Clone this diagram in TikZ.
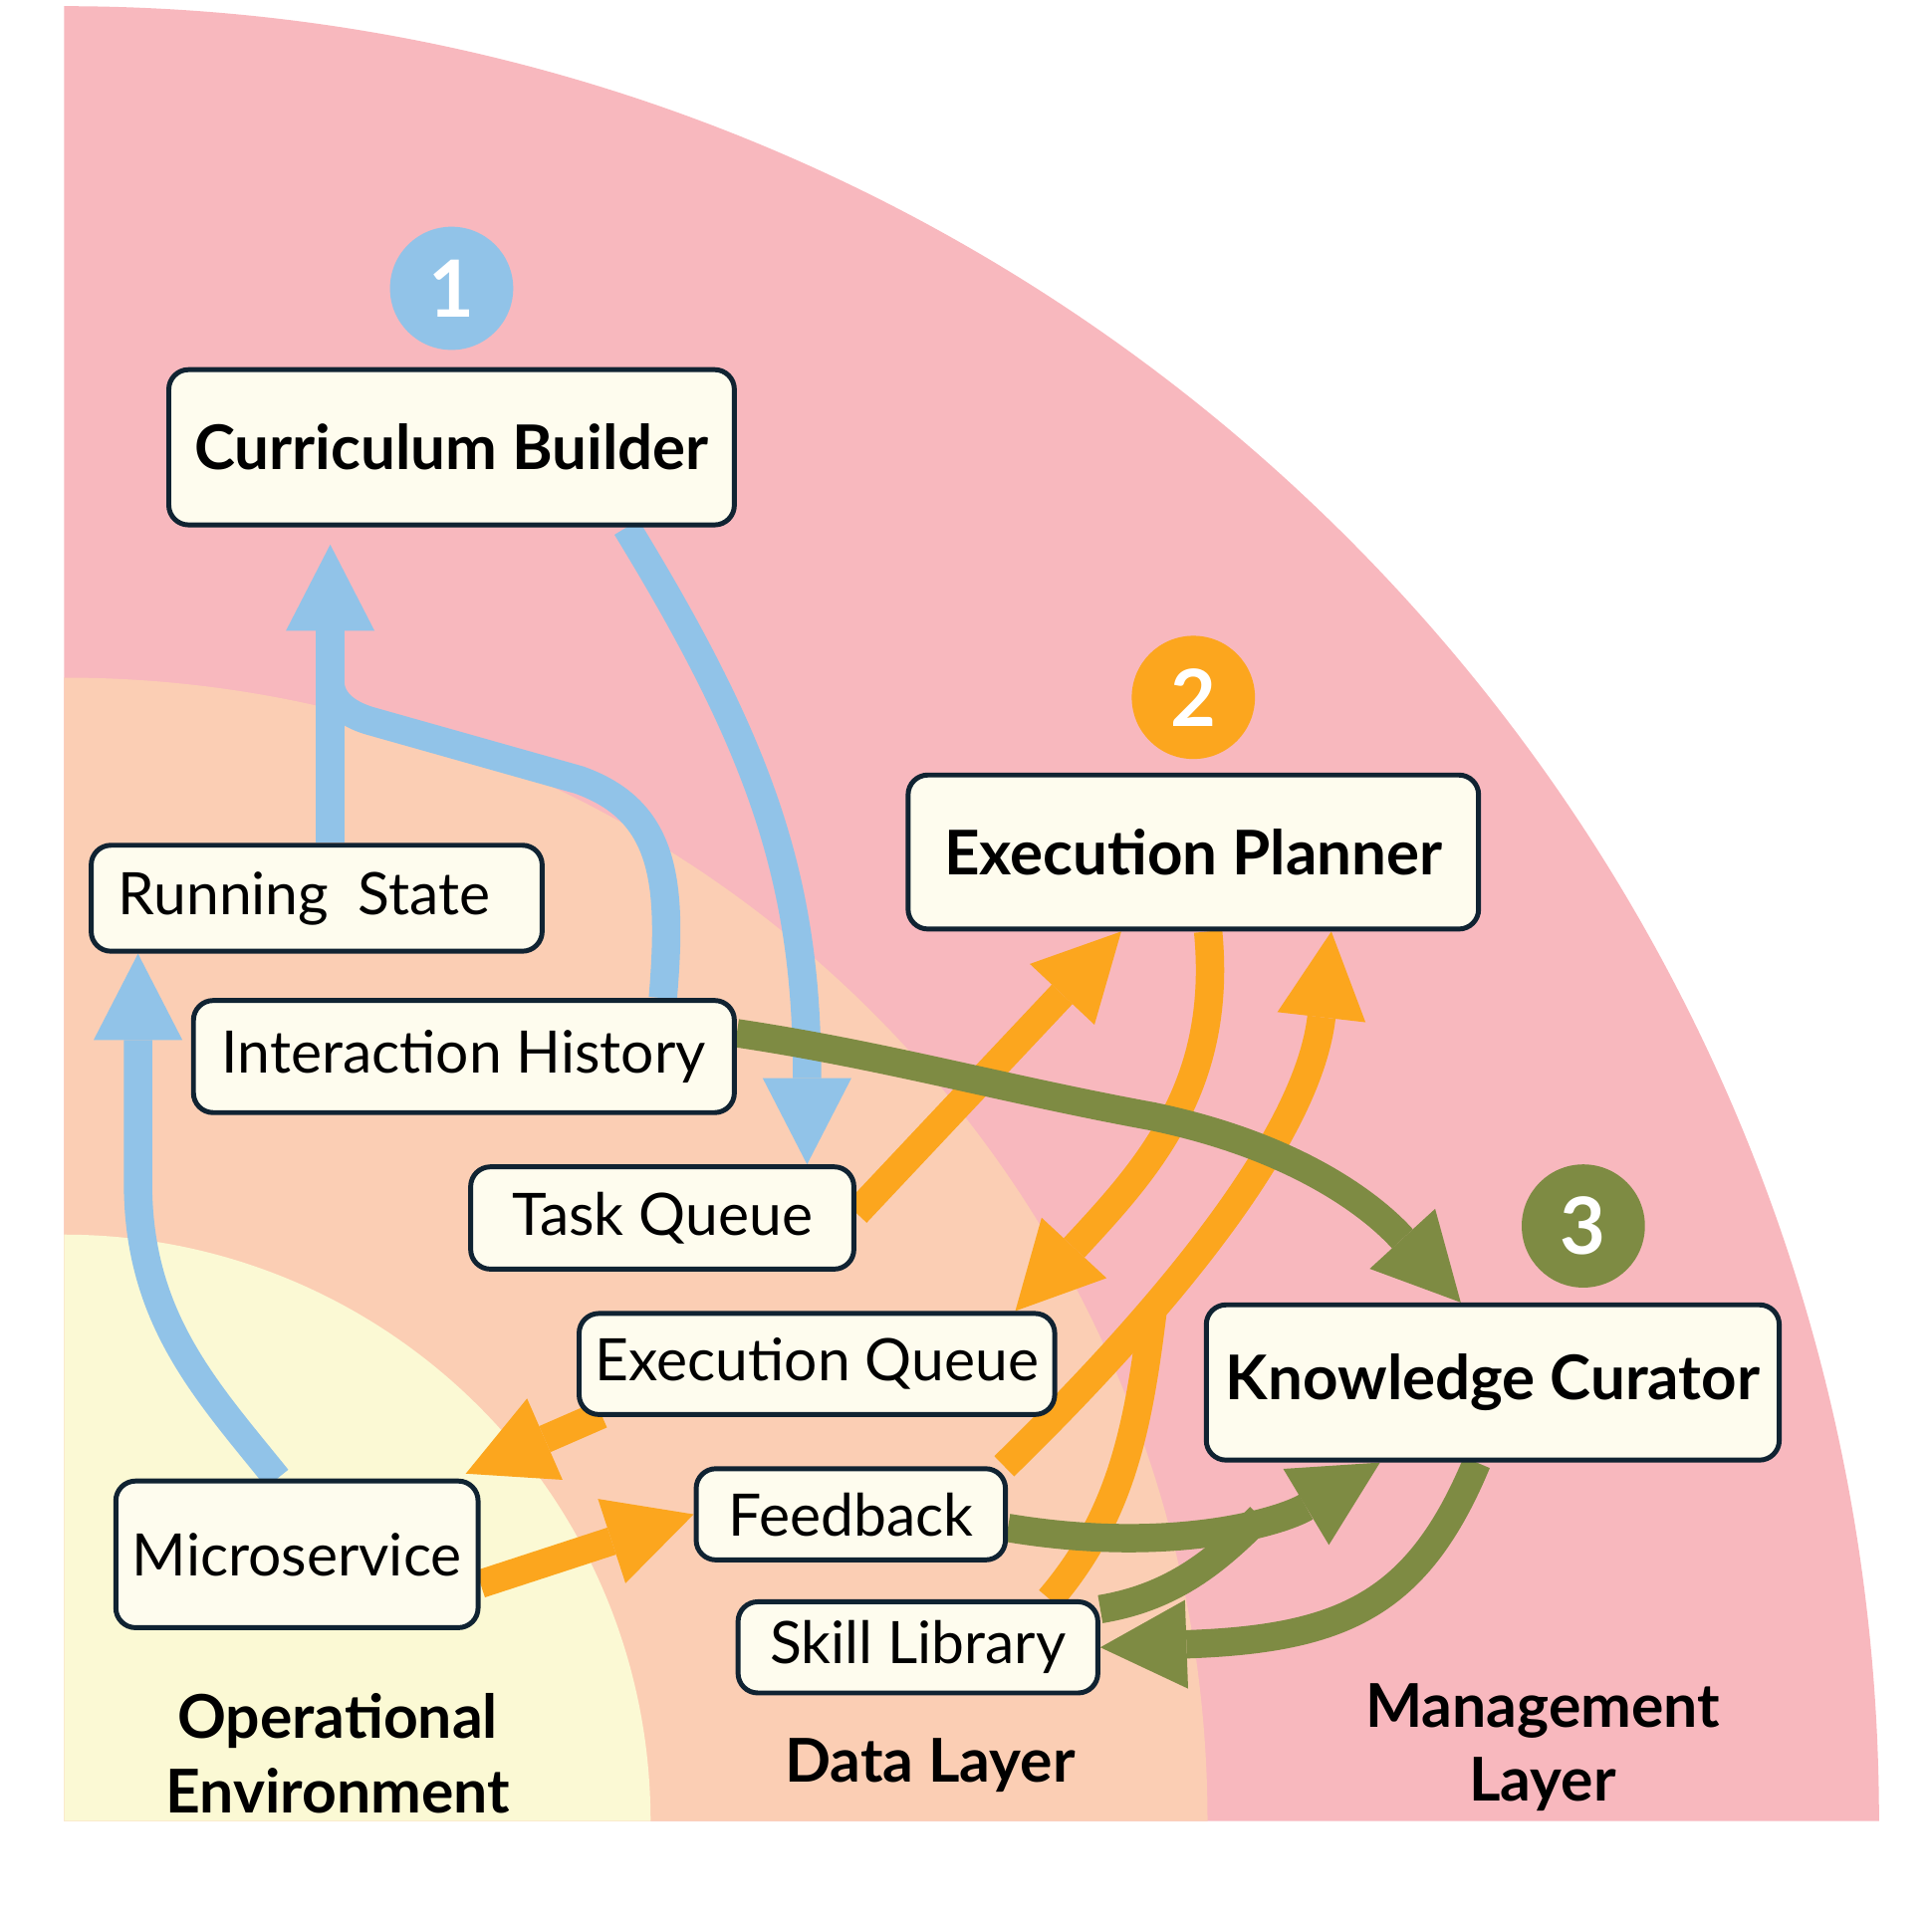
\documentclass[tikz,border=0pt]{standalone}
\usepackage{fontspec}
\setmainfont{Lato}
\usetikzlibrary{arrows.meta,positioning}
\definecolor{mgmtpink}{RGB}{248,184,190}
\definecolor{datapeach}{RGB}{251,206,180}
\definecolor{opyellow}{RGB}{251,249,212}
\definecolor{flowblue}{RGB}{145,195,232}
\definecolor{floworange}{RGB}{252,166,30}
\definecolor{flowgreen}{RGB}{126,139,67}
\definecolor{boxfill}{RGB}{254,252,238}
\definecolor{boxline}{RGB}{16,35,50}
\pgfdeclarelayer{background}
\pgfsetlayers{background,main}
\tikzset{>={Triangle[length=70pt,width=72pt,line width=0pt]},x=1pt,y=1pt,
  box/.style={draw=boxline,line width=4pt,rounded corners=16pt,fill=boxfill,inner sep=0pt,font=\fontsize{47.5}{55}\selectfont},
  title box/.style={box,font=\fontsize{50}{55}\selectfont\bfseries},
  badge/.style={circle,minimum size=100pt,inner sep=0pt,text=white,font=\fontsize{64}{64}\selectfont\bfseries},
  layer label/.style={align=center,font=\fontsize{49}{60}\selectfont\bfseries},
  flow/.style={line width=23pt}}

\begin{document}
\begin{tikzpicture}
    \useasboundingbox (0,0) rectangle (1568,-1561.5);
    % the three layers
    \begin{pgfonlayer}{background}
    \fill[mgmtpink] (52,-1478) -- (52,-5) arc[start angle=90,end angle=0,radius=1473pt] -- cycle;
    \fill[datapeach] (52,-1478) -- (52,-550) arc[start angle=90,end angle=0,radius=928pt] -- cycle;
    \fill[opyellow] (52,-1478) -- (52,-1002) arc[start angle=90,end angle=0,radius=476pt] -- cycle;
    \end{pgfonlayer}

    \node[title box, minimum width=459pt, minimum height=126pt] (cb) at (366.5,-363) {Curriculum Builder};
    \node[title box, on grid, minimum width=463pt, minimum height=125pt] (ep) [below right=328.5pt and 602pt of cb] {Execution Planner};
    \node[title box, on grid, minimum width=465pt, minimum height=126pt] (kc) [below right=430.5pt and 243pt of ep] {Knowledge Curator};
    \node[box, on grid, text width=322pt, inner xsep=22pt, minimum height=86pt, align=left] (rs) [below left=366pt and 109.5pt of cb] {Running\ \,State};
    \node[box, on grid, minimum width=439pt, minimum height=91pt] (ih) [below right=128.5pt and 119.5pt of rs] {Interaction History};
    \node[box, on grid, minimum width=311pt, minimum height=83pt] (tq) [below right=131pt and 161pt of ih] {Task Queue};
    \node[box, on grid, minimum width=386pt, minimum height=82pt] (eq) [below right=118.5pt and 125.5pt of tq] {Execution Queue};
    \node[box, on grid, minimum width=294pt, minimum height=119pt] (ms) [below left=154.5pt and 422pt of eq] {Microservice};
    \node[box, on grid, minimum width=251pt, minimum height=74pt] (fb) [below right=122pt and 27.5pt of eq] {Feedback};
    \node[box, on grid, minimum width=292pt, minimum height=74pt] (sl) [below right=108pt and 54.5pt of fb] {Skill Library};

    \node[badge, fill=flowblue, on grid] (n1) [above=129pt of cb] {1};
    \node[badge, fill=floworange, on grid] (n2) [above=125.5pt of ep] {2};
    \node[badge, fill=flowgreen, on grid] (n3) [above right=127pt and 73.5pt of kc] {3};

    \node[layer label] (oplabel) at (274,-1423) {Operational\\Environment};
    \node[layer label] (datalabel) at (755,-1433) {Data Layer};
    \node[layer label] (mgmtlabel) at (1252,-1418) {Management\\Layer};

    \begin{pgfonlayer}{background}
    % blue flows
    \coordinate (bjoin) at ([xshift=11pt,yshift=131pt]rs.north);
    \path[flow, flowblue] ([xshift=11pt]rs.north) edge[->] ([xshift=-98.5pt,yshift=-14pt]cb.south);
    \draw[flow, flowblue] ([xshift=161.5pt]ih.north) .. controls +(8,95) and +(70,-25) .. (470,-633) -- (300,-585) .. controls +(-20,6) and +(0,-15) .. (bjoin);
    \draw[flow, flowblue, ->] ([xshift=142pt]cb.south) .. controls +(110,-180) and +(0,230) .. ([xshift=117.5pt]tq.north);
    \draw[flow, flowblue, ->] ([xshift=-16pt]ms.north) .. controls +(-58,72) and +(0,-110) .. (112,-960) -- ([xshift=-145pt]rs.south);
    % orange flows
    \path[flow, floworange] ([yshift=4pt]tq.east) edge[->] ([xshift=-58.5pt]ep.south);
    \draw[flow, floworange, ->] ([xshift=12pt]ep.south) .. controls +(12,-125) and +(108,116) .. ([xshift=-34pt]eq.north east);
    \draw[flow, floworange, ->] ([xshift=-3pt]fb.north east) .. controls +(115,112) and +(-20,-173) .. ([xshift=112pt]ep.south) coordinate[pos=0.35] (omerge);
    \draw[flow, floworange] ([xshift=107pt]sl.north) .. controls +(58,68) and +(-12,-100) .. (omerge);
    \path[flow, floworange] ([xshift=20pt,yshift=2pt]eq.south west) edge[->] ([xshift=-12pt,yshift=4pt]ms.north east);
    \path[flow, floworange] ([yshift=-24pt]ms.east) edge[->] (fb.west);
    % green flows
    \draw[flow, flowgreen, ->] ([yshift=19pt]ih.east) .. controls +(120,-18) and +(-120,22) .. (935,-906) .. controls +(140,-29) and +(-55,60) .. ([xshift=-26pt]kc.north);
    \draw[flow, flowgreen, ->] ([yshift=-11pt]fb.east) .. controls +(132,-22) and +(-80,-48) .. ([xshift=-91.5pt]kc.south) coordinate[pos=0.62] (gmerge);
    \draw[flow, flowgreen] ([yshift=-8pt]sl.north east) .. controls +(60,10) and +(-35,-35) .. (gmerge);
    \draw[flow, flowgreen, ->] ([xshift=-13pt]kc.south) .. controls +(-48,-115) and +(197,7) .. (sl.east);
    \end{pgfonlayer}
\end{tikzpicture}
\end{document}
